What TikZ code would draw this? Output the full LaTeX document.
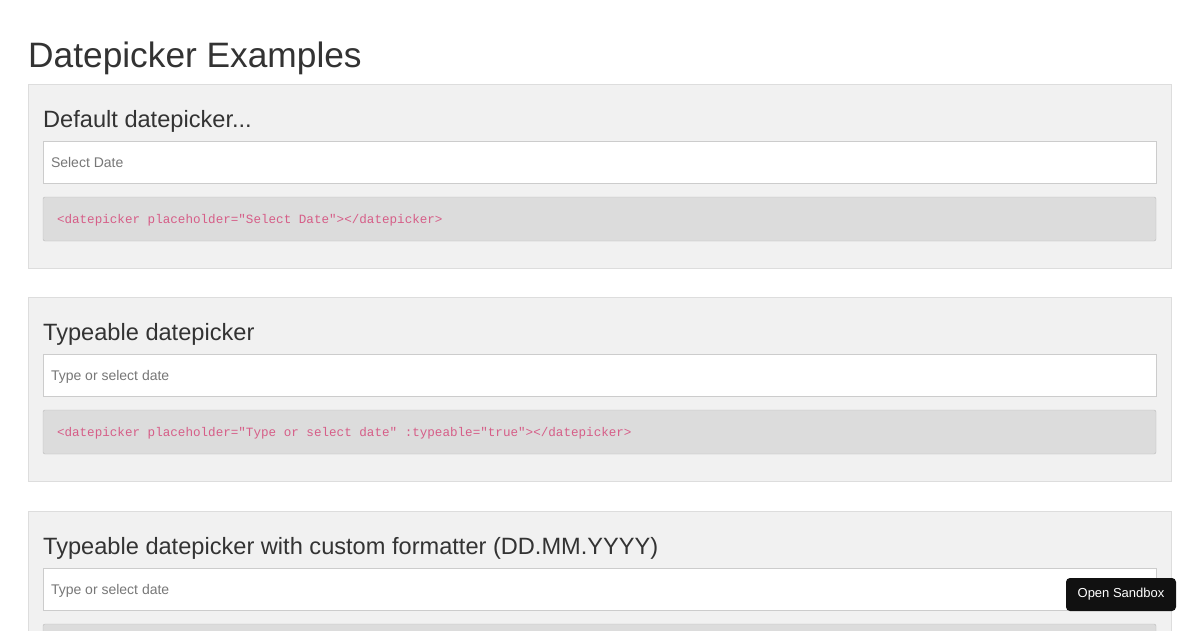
\documentclass[tikz,border=0pt]{standalone}
\usepackage{fontspec}
\setmainfont{Liberation Sans}
\setmonofont{Liberation Mono}
\usetikzlibrary{positioning}

\definecolor{inktext}{HTML}{333333}
\definecolor{hinttext}{HTML}{777777}
\definecolor{panelfill}{HTML}{F1F1F1}
\definecolor{paneledge}{HTML}{DDDDDD}
\definecolor{fieldedge}{HTML}{CCCCCC}
\definecolor{codefill}{HTML}{DCDCDC}
\definecolor{codeedge}{HTML}{BBBBBB}
\definecolor{codetext}{HTML}{D65E88}
\definecolor{sandboxfill}{HTML}{111111}

% texts of the three example panels
\newcommand\ttlDefault{Default datepicker...}
\newcommand\ttlTypeable{Typeable datepicker}
\newcommand\ttlFormatter{Typeable datepicker with custom formatter (DD.MM.YYYY)}
\newcommand\codeDefault{<datepicker placeholder="Select Date"></datepicker>}
\newcommand\codeTypeable{<datepicker placeholder="Type or select date" :typeable="true"></datepicker>}
\newcommand\codeNone{}

\begin{document}
\begin{tikzpicture}[x=1pt, y=-1pt,
	panel/.style={draw=paneledge, fill=panelfill, minimum width=1143pt, minimum height=184pt, inner sep=0pt},
	field/.style={draw=fieldedge, fill=white, minimum width=1113pt, minimum height=42pt, inner sep=0pt},
	codebox/.style={draw=codeedge, fill=codefill, rounded corners=2pt, minimum width=1113pt, minimum height=44pt, inner sep=0pt},
	heading/.style={anchor=base west, inner sep=0pt, text=inktext, font=\fontsize{23.6}{28}\selectfont},
	hint/.style={anchor=base west, inner sep=0pt, text=hinttext, font=\fontsize{14}{16}\selectfont},
	snippet/.style={anchor=base west, inner sep=0pt, text=codetext, font=\ttfamily\fontsize{12.6}{15}\selectfont},
	sandbox/.style={fill=sandboxfill, rounded corners=4pt, minimum width=110pt, minimum height=33pt, inner sep=0pt, text=white, font=\fontsize{13}{15}\selectfont}]

	% Page size and white background
	\useasboundingbox (0,0) rectangle (1200,630);
	\clip (0,0) rectangle (1200,630);
	\fill[white] (0,0) rectangle (1200,630);

	% Page title
	\node[anchor=base west, inner sep=0pt, text=inktext, font=\fontsize{35.3}{40}\selectfont] (pagetitle) at (28,67) {Datepicker Examples};

	% Draw the example panels: frame, heading, input field and code snippet
	\foreach \i/\py/\ttl/\hinttxt/\code in {1/84/\ttlDefault/{Select Date}/\codeDefault, 2/297/\ttlTypeable/{Type or select date}/\codeTypeable, 3/511/\ttlFormatter/{Type or select date}/\codeNone}
	{
		\node[panel] (panel\i) at (599.5,\py+92) {};
		\node[heading] (title\i) at (43,\py+43) {\ttl};
		\node[field] (field\i) at (599.5,\py+78) {};
		\node[hint] (hint\i) at ([xshift=8pt, yshift=-5pt]field\i.west) {\hinttxt};
		\node[codebox] (code\i) at (599.5,\py+135) {};
		\node[snippet] (snippet\i) at ([xshift=14pt, yshift=-4pt]code\i.west) {\code};
	}

	% Floating button
	\node[sandbox] (sandbox) at (1121,594.5) {Open Sandbox};
\end{tikzpicture}
\end{document}
